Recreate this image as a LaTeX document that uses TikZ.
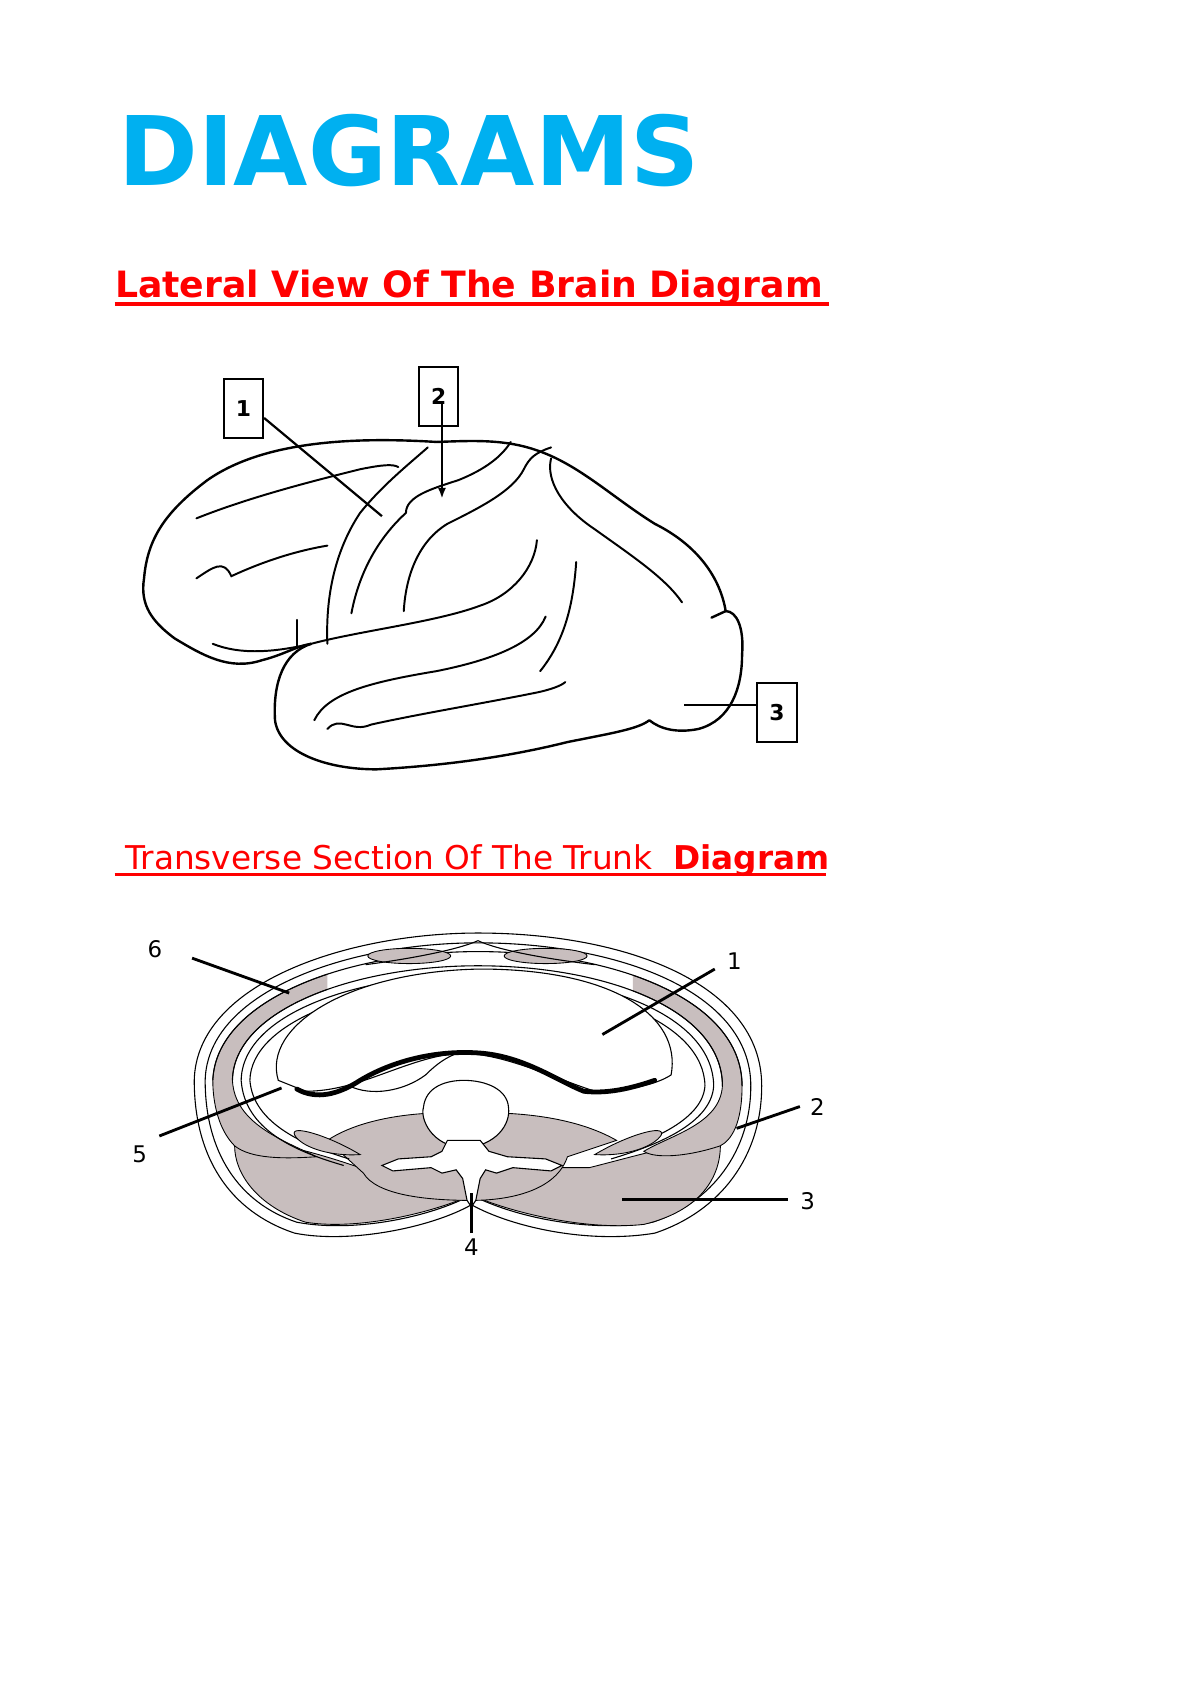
\documentclass[tikz,border=0pt]{standalone}
\usepackage{fontspec}
\setmainfont{DejaVu Sans}
\usetikzlibrary{arrows.meta}
\definecolor{ttl}{RGB}{0,176,240}
\definecolor{musc}{RGB}{200,190,190}
\begin{document}
\begin{tikzpicture}[x=0.5pt,y=-0.5pt,
  brain/.style={line width=1.1pt,line join=round,line cap=round},
  sulc/.style={line width=0.9pt,line cap=round},
  lbox/.style={draw,line width=1pt,minimum width=18pt,minimum height=27pt,inner sep=0pt,font=\bfseries\fontsize{10}{12}\selectfont},
  lbl/.style={font=\fontsize{10.5}{12}\selectfont,inner sep=1pt},
  lead/.style={line width=1.3pt},
  uline/.style={red,line width=1.4pt},
  thin/.style={line width=0.5pt}]
\useasboundingbox (0,0) rectangle (1100,1556);
\node[anchor=base west,inner sep=0,text=ttl,font=\bfseries\fontsize{44}{48}\selectfont] (title) at (108,170) {DIAGRAMS};
\node[anchor=base west,inner sep=0,text=red,font=\bfseries\fontsize{16.6}{20}\selectfont] (sub1) at (105,273) {Lateral View Of The Brain Diagram};
\draw[uline] (sub1.south west) ++(0,-2) -- ++(655,0);
\node[anchor=base west,inner sep=0,text=red,font=\fontsize{15}{20}\selectfont] (sub2) at (105,797) {\ Transverse Section Of The Trunk\ \ \textbf{Diagram}};
\draw[uline] (105,801) -- (757,801);
% ---------- brain ----------
\draw[brain] (285,590) .. controls (260,598) and (250,625) .. (252,660)
  .. controls (256,690) and (300,705) .. (345,705)
  .. controls (400,702) and (460,695) .. (520,680)
  .. controls (560,672) and (585,668) .. (595,660)
  .. controls (605,668) and (620,672) .. (640,668)
  .. controls (670,660) and (680,630) .. (680,600)
  .. controls (682,575) and (675,560) .. (665,560) -- (652,566);
\draw[brain] (665,560) .. controls (660,530) and (640,500) .. (600,480)
  .. controls (560,455) and (530,425) .. (490,412)
  .. controls (460,402) and (430,404) .. (400,405)
  .. controls (320,400) and (240,405) .. (190,440)
  .. controls (150,470) and (135,495) .. (132,530)
  .. controls (128,555) and (140,570) .. (160,585)
  .. controls (185,600) and (210,615) .. (240,605)
  .. controls (260,600) and (272,592) .. (285,590);
\draw[sulc] (285,590) .. controls (330,578) and (400,570) .. (440,555) .. controls (470,545) and (490,520) .. (492,495);
\draw[sulc] (195,590) .. controls (220,600) and (250,598) .. (285,590);
\draw[sulc] (272,568) -- (272,592);
\draw[sulc] (180,475) .. controls (230,455) and (290,440) .. (330,430) .. controls (350,426) and (360,425) .. (365,428);
\draw[sulc] (180,530) .. controls (195,520) and (205,512) .. (212,528) .. controls (240,515) and (270,505) .. (300,500);
\draw[sulc] (300,590) .. controls (298,540) and (310,500) .. (330,470) .. controls (350,445) and (375,425) .. (392,410);
\draw[sulc] (322,562) .. controls (330,520) and (350,490) .. (372,470) .. controls (372,455) and (395,448) .. (420,440) .. controls (445,430) and (460,418) .. (468,405);
\draw[sulc] (370,560) .. controls (372,525) and (385,495) .. (410,480) .. controls (440,465) and (470,450) .. (480,430) .. controls (485,420) and (490,415) .. (505,410);
\draw[sulc] (505,420) .. controls (500,440) and (515,465) .. (545,485) .. controls (580,510) and (610,530) .. (625,552);
\draw[sulc] (528,515) .. controls (525,560) and (515,590) .. (495,615);
\draw[sulc] (288,660) .. controls (300,635) and (340,625) .. (400,615) .. controls (450,605) and (490,590) .. (500,565);
\draw[sulc] (300,668) .. controls (312,655) and (322,672) .. (340,664) .. controls (380,655) and (440,645) .. (490,635) .. controls (505,632) and (515,628) .. (518,625);
% labels brain
\node[lbox] (b1) at (223,374) {1};
\node[lbox] (b2) at (402,363) {2};
\node[lbox] (b3) at (712,653) {3};
\coordinate (p1) at (350,473);
\coordinate (p2) at (405,457);
\coordinate (p3) at (627,646);
\draw[line width=1pt] (b1.east) ++(0,9) -- (p1);
\draw[line width=1pt,-{Latex[length=5pt]}] (b2.center) ++(3,7) -- (p2);
\draw[line width=1pt] (b3.west) ++(0,-7) -- (p3);
% ---------- trunk ----------
\draw[thin,fill=white] (178,990) .. controls (180,900) and (320,855) .. (438,855)
  .. controls (570,855) and (698,900) .. (698,995)
  .. controls (698,1060) and (660,1110) .. (600,1130)
  .. controls (540,1140) and (470,1125) .. (432,1104)
  .. controls (395,1125) and (320,1140) .. (270,1130)
  .. controls (210,1110) and (178,1060) .. (178,990) -- cycle;
\draw[thin] (188,990) .. controls (190,908) and (320,864) .. (438,864)
  .. controls (565,864) and (688,908) .. (688,995)
  .. controls (688,1055) and (652,1102) .. (598,1120)
  .. controls (540,1130) and (470,1115) .. (432,1095)
  .. controls (395,1115) and (325,1130) .. (272,1120)
  .. controls (218,1102) and (188,1055) .. (188,990) -- cycle;
% back muscles
\fill[musc,draw=black,line width=0.4pt] (215,1050) .. controls (240,1040) and (300,1060) .. (330,1070)
  -- (540,1070) .. controls (580,1060) and (630,1045) .. (660,1045)
  .. controls (662,1080) and (640,1110) .. (590,1122)
  .. controls (535,1128) and (465,1110) .. (432,1095)
  .. controls (400,1110) and (330,1128) .. (280,1120)
  .. controls (235,1105) and (215,1075) .. (215,1050) -- cycle;
\fill[musc,draw=black,line width=0.4pt] (300,1045) .. controls (330,1025) and (380,1018) .. (425,1020)
  .. controls (480,1018) and (530,1025) .. (565,1045) -- (520,1060)
  .. controls (510,1090) and (470,1100) .. (432,1100) .. controls (390,1100) and (345,1095) .. (333,1075) -- cycle;
% rib bands (sides only)
\begin{scope}
\clip (150,930) -- (300,880) -- (300,1100) -- (150,1100) -- cycle (730,930) -- (580,880) -- (580,1100) -- (730,1100) -- cycle;
\fill[musc,draw=black,line width=0.4pt]
  (195,990) .. controls (198,915) and (320,872) .. (438,872) .. controls (560,872) and (680,915) .. (680,995) .. controls (680,1030) and (670,1045) .. (660,1050)
  .. controls (630,1060) and (600,1062) .. (590,1055)
  .. controls (615,1040) and (660,1030) .. (662,995) .. controls (662,925) and (555,885) .. (438,885) .. controls (325,885) and (214,925) .. (213,990)
  .. controls (215,1030) and (260,1045) .. (290,1060) .. controls (260,1062) and (230,1062) .. (215,1050) .. controls (200,1035) and (195,1010) .. (195,990) -- cycle;
\end{scope}
\draw[thin] (195,990) .. controls (198,915) and (320,872) .. (438,872) .. controls (560,872) and (680,915) .. (680,995);
\draw[thin] (213,990) .. controls (214,925) and (325,885) .. (438,885) .. controls (555,885) and (662,925) .. (662,995);
\draw[thin] (221,990) .. controls (222,930) and (325,893) .. (438,893) .. controls (552,893) and (653,930) .. (654,995) .. controls (652,1030) and (600,1050) .. (560,1062);
\draw[thin] (229,990) .. controls (230,937) and (328,900) .. (438,900) .. controls (548,900) and (645,937) .. (646,995) .. controls (644,1025) and (600,1045) .. (555,1058);
\draw[thin] (229,990) .. controls (232,1030) and (280,1050) .. (320,1062);
\draw[thin] (221,990) .. controls (224,1035) and (270,1055) .. (315,1068);
\fill[musc,draw=black,line width=0.4pt] (270,1040) .. controls (265,1030) and (300,1040) .. (330,1058) .. controls (300,1060) and (275,1050) .. (270,1040) -- cycle;
\fill[musc,draw=black,line width=0.4pt] (606,1040) .. controls (610,1030) and (575,1040) .. (545,1058) .. controls (575,1060) and (600,1050) .. (606,1040) -- cycle;
% top muscles
\fill[musc,draw=black,line width=0.4pt] (375,876) ellipse[x radius=38,y radius=7];
\fill[musc,draw=black,line width=0.4pt] (500,876) ellipse[x radius=38,y radius=7];
\draw[thin] (335,884) .. controls (380,878) and (420,870) .. (438,862) .. controls (455,870) and (495,878) .. (545,884);
% cavity
\draw[thin,fill=white] (255,990) .. controls (240,940) and (320,890) .. (440,888)
  .. controls (560,888) and (625,930) .. (615,985) .. controls (600,995) and (570,1000) .. (545,1000)
  .. controls (500,985) and (460,965) .. (420,965) .. controls (370,970) and (330,1000) .. (280,1000) -- cycle;
\draw[thin] (320,995) .. controls (340,1005) and (370,1000) .. (390,985) .. controls (400,975) and (410,968) .. (420,965);
% vertebra
\draw[thin,fill=white] (425,1052) .. controls (395,1050) and (385,1025) .. (388,1015) .. controls (390,995) and (410,990) .. (425,990)
  .. controls (445,990) and (465,998) .. (466,1015) .. controls (468,1030) and (455,1050) .. (425,1052) -- cycle;
\draw[thin,fill=white] (410,1045) -- (440,1045) -- (448,1055) -- (465,1060) -- (500,1062) -- (515,1068) -- (505,1073) -- (470,1070) -- (455,1075) -- (445,1072)
  -- (440,1080) -- (436,1100) -- (432,1106) -- (428,1100) -- (424,1080) -- (418,1072) -- (405,1075) -- (395,1070) -- (360,1073) -- (350,1068) -- (365,1062) -- (395,1060) -- (405,1055) -- cycle;
% diaphragm line
\draw[line width=2.2pt,line cap=round] (272,998) .. controls (290,1008) and (310,1003) .. (330,990)
  .. controls (360,972) and (400,962) .. (440,965) .. controls (480,968) and (510,990) .. (535,1000)
  .. controls (560,1003) and (585,995) .. (600,990);
% trunk labels
\node[lbl] (t6) at (142,870) {6};
\node[lbl] (t1) at (673,881) {1};
\node[lbl] (t2) at (749,1014) {2};
\node[lbl] (t3) at (740,1101) {3};
\node[lbl] (t4) at (432,1143) {4};
\node[lbl] (t5) at (128,1058) {5};
\coordinate (q6) at (265,910);
\coordinate (q1) at (552,948);
\coordinate (q2) at (675,1034);
\coordinate (q3) at (570,1099);
\coordinate (q4) at (432,1093);
\coordinate (q5) at (258,997);
\draw[lead] (176,878) -- (q6);
\draw[lead] (655,888) -- (q1);
\draw[lead] (733,1014) -- (q2);
\draw[lead] (722,1099) -- (q3);
\draw[lead] (t4.north) ++(0,-3) -- (q4);
\draw[lead] (146,1041) -- (q5);
\end{tikzpicture}
\end{document}
